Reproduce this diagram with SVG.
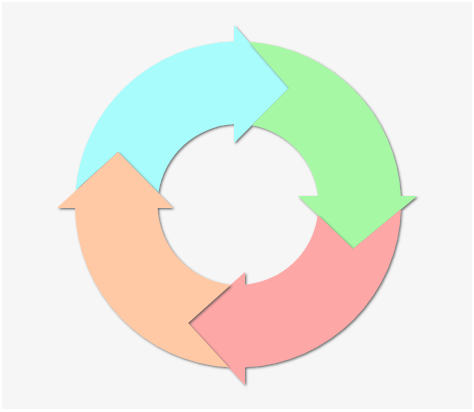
<svg xmlns="http://www.w3.org/2000/svg" width="474" height="412" viewBox="0 0 474 412">
<defs>
<style>
.arrow{filter:url(#sh);stroke:none}
.cyan{fill:#a8fcfc}
.green{fill:#a6f8a4}
.pink{fill:#fea7a7}
.peach{fill:#fec9a4}
</style>
<filter id="sh" x="-10%" y="-10%" width="130%" height="130%">
<feDropShadow dx="1.3" dy="1.3" stdDeviation="0.9" flood-color="#4a4a4a" flood-opacity="0.8"/>
</filter>
</defs>
<rect x="0" y="0" width="474" height="412" fill="#ffffff"/>
<rect x="2" y="2" width="470" height="407" fill="#f6f6f6"/>
<g id="arrow-cyan">
<path class="arrow cyan" d="M75.6,190.2 A163,163 0 0 1 234,41.55 L234,25 L289,88 L234,143 L234,124.1 A80.5,80.5 0 0 0 158.3,193.1 L118,152 Z"/>
</g>
<g id="arrow-green">
<path class="arrow green" d="M248.7,41.85 A163,163 0 0 1 400.8,196 L417,196 L353,249 L298,196 L318.05,196 A80.5,80.5 0 0 0 251.8,125.2 L289,88 Z"/>
</g>
<g id="arrow-pink">
<path class="arrow pink" d="M400.9,209.3 A163,163 0 0 1 245,367.35 L245,385 L188,323 L245,272 L245,284.7 A80.5,80.5 0 0 0 317.8,215.1 L353,249 Z"/>
</g>
<g id="arrow-peach">
<path class="arrow peach" d="M228.7,367.2 A163,163 0 0 1 75,208 L57,208 L118,152 L173,208 L157.6,208 A80.5,80.5 0 0 0 230.8,284.7 L188,323 Z"/>
</g>
<g id="connectors"></g>
</svg>
